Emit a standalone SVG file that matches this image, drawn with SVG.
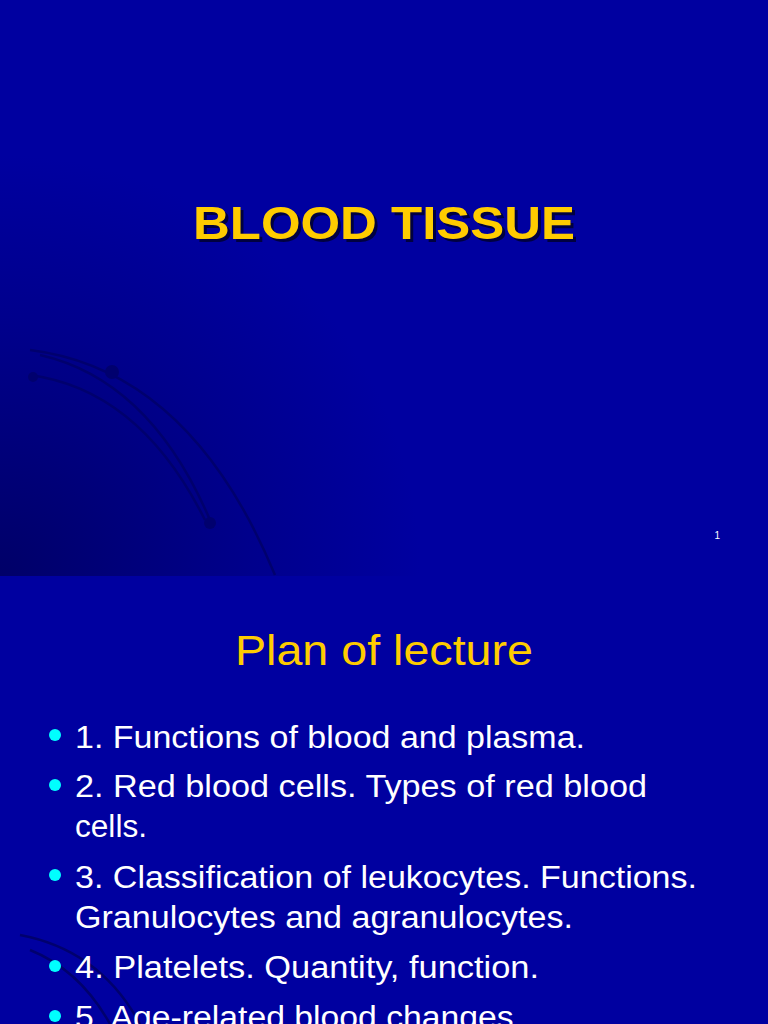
<svg xmlns="http://www.w3.org/2000/svg" width="768" height="1024" viewBox="0 0 768 1024">
<defs>
<radialGradient id="g1" cx="0" cy="575" r="420" gradientUnits="userSpaceOnUse">
<stop offset="0" stop-color="#000068"/><stop offset="0.6" stop-color="#00008c"/><stop offset="1" stop-color="#0000a0"/>
</radialGradient>
<style>
.arc{fill:none;stroke:#00006e;stroke-width:2.5}
.t{font-family:"Liberation Sans",Arial,sans-serif}
.b{font-size:31px;fill:#ffffff}
</style>
</defs>
<rect width="768" height="576" fill="#0000a0"/>
<rect width="768" height="576" fill="url(#g1)"/>
<g id="decor">
<path class="arc" d="M30,350 Q190,370 275,575"/>
<path class="arc" d="M40,355 Q150,380 210,520"/>
<path class="arc" d="M30,375 Q140,390 205,520"/>
<circle cx="112" cy="372" r="7" fill="#00006e"/>
<circle cx="33" cy="377" r="5" fill="#00006e"/>
<circle cx="210" cy="523" r="6" fill="#00006e"/>
</g>
<text class="t" x="196" y="242" textLength="382" lengthAdjust="spacingAndGlyphs" font-size="46" font-weight="bold" fill="#000040">BLOOD TISSUE</text>
<text class="t" x="193" y="239" textLength="382" lengthAdjust="spacingAndGlyphs" font-size="46" font-weight="bold" fill="#ffcc00">BLOOD TISSUE</text>
<text class="t" x="720" y="539" text-anchor="end" font-size="10" fill="#ffffff">1</text>
<rect y="576" width="768" height="448" fill="#0000a0"/>
<path class="arc" d="M20,935 Q100,950 140,1024"/>
<path class="arc" d="M30,950 Q80,970 110,1024"/>
<text class="t" x="235" y="665" textLength="298" lengthAdjust="spacingAndGlyphs" font-size="42" fill="#ffcc00">Plan of lecture</text>
<g class="t b">
<circle cx="55" cy="735" r="6" fill="#00ffff"/><text x="75" y="748" textLength="510" lengthAdjust="spacingAndGlyphs">1. Functions of blood and plasma.</text>
<circle cx="55" cy="785" r="6" fill="#00ffff"/><text x="75" y="797" textLength="572" lengthAdjust="spacingAndGlyphs">2. Red blood cells. Types of red blood</text><text x="75" y="837" textLength="72" lengthAdjust="spacingAndGlyphs">cells.</text>
<circle cx="55" cy="875" r="6" fill="#00ffff"/><text x="75" y="888" textLength="622" lengthAdjust="spacingAndGlyphs">3. Classification of leukocytes. Functions.</text><text x="75" y="928" textLength="498" lengthAdjust="spacingAndGlyphs">Granulocytes and agranulocytes.</text>
<circle cx="55" cy="966" r="6" fill="#00ffff"/><text x="75" y="978" textLength="464" lengthAdjust="spacingAndGlyphs">4. Platelets. Quantity, function.</text>
<circle cx="55" cy="1016" r="6" fill="#00ffff"/><text x="75" y="1028" textLength="448" lengthAdjust="spacingAndGlyphs">5. Age-related blood changes.</text>
</g>
</svg>
